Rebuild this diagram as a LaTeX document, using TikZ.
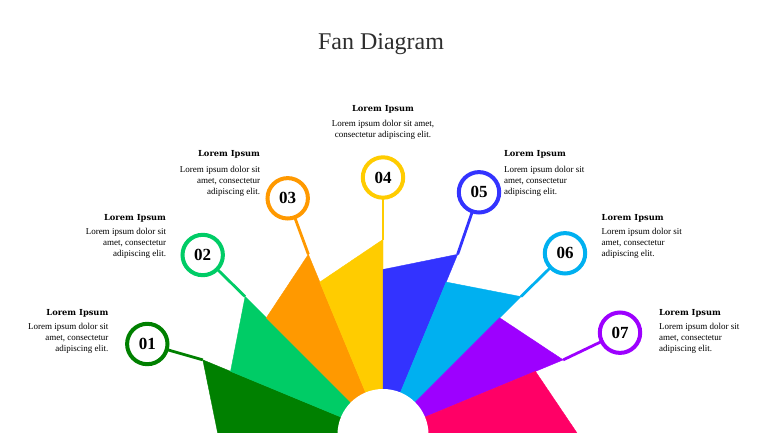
\documentclass[tikz,border=0pt]{standalone}
\usepackage{fontspec}
\setmainfont{Liberation Serif}
\newfontfamily\headfont{DejaVu Serif}
\definecolor{cA}{HTML}{008000}
\definecolor{cB}{HTML}{00CC66}
\definecolor{cC}{HTML}{FF9900}
\definecolor{cD}{HTML}{FFCC00}
\definecolor{cE}{HTML}{3333FF}
\definecolor{cF}{HTML}{00B0F0}
\definecolor{cG}{HTML}{9D00FF}
\definecolor{cH}{HTML}{FF0066}
\begin{document}
\begin{tikzpicture}[x=1pt,y=-1pt,
  seg/.style={fill=#1, draw=#1, line width=0.4pt, line join=round},
  numc/.style={circle, draw=#1, line width=4pt, fill=white, minimum size=40.4pt,
    inner sep=0pt, outer sep=0pt, font=\fontsize{17}{17}\selectfont\bfseries},
  conn/.style={draw=#1, line width=2.8pt},
  head/.style={inner sep=0pt, outer sep=0pt, font=\headfont\bfseries\fontsize{8.3}{8.3}\selectfont},
  body/.style={inner sep=0pt, outer sep=0pt, font=\fontsize{9}{11}\selectfont}]
\useasboundingbox (0,0) rectangle (768,433);
\clip (0,0) rectangle (768,433);
\fill[white] (0,0) rectangle (768,433);
\coordinate (C) at (383,434.5);
\foreach \i/\a in {0/180,1/157.5,2/135,3/112.5,4/90,5/67.5,6/45,7/22.5,8/0} {
  \coordinate (L\i) at ({383+195*cos(\a)},{434.5-195*sin(\a)});
  \coordinate (S\i) at ({383+165*cos(\a)},{434.5-165*sin(\a)});
}
% fan segments
\path[seg=cA] (C) -- (L1) -- (S0) -- cycle;
\path[seg=cB] (C) -- (L2) -- (S1) -- cycle;
\path[seg=cC] (C) -- (L3) -- (S2) -- cycle;
\path[seg=cD] (C) -- (L4) -- (S3) -- cycle;
\path[seg=cE] (C) -- (S4) -- (L5) -- cycle;
\path[seg=cF] (C) -- (S5) -- (L6) -- cycle;
\path[seg=cG] (C) -- (S6) -- (L7) -- cycle;
\path[seg=cH] (C) -- (S7) -- (L8) -- cycle;
\fill[white] (C) circle (45.5pt);
% number circles
\node[numc=cA] (n1) at (147.3,344) {01};
\node[numc=cB] (n2) at (202.7,255) {02};
\node[numc=cC] (n3) at (287.7,198.3) {03};
\node[numc=cD] (n4) at (383,177.5) {04};
\node[numc=cE] (n5) at (479,192.3) {05};
\node[numc=cF] (n6) at (565,253.3) {06};
\node[numc=cG] (n7) at (620,332.7) {07};
% connectors
\draw[conn=cA] (n1) -- (L1);
\draw[conn=cB] (n2) -- (L2);
\draw[conn=cC] (n3) -- (L3);
\draw[conn=cD] (n4) -- (L4);
\draw[conn=cE] (n5) -- (L5);
\draw[conn=cF] (n6) -- (L6);
\draw[conn=cG] (n7) -- (L7);
% title
\node[inner sep=0pt, anchor=base, text=black!82, font=\fontsize{24}{24}\selectfont] (title) at (381,49.5) {Fan Diagram};
% text blocks
\node[head, anchor=base east] (h1) at (108.3,315) {Lorem Ipsum};
\node[body, anchor=north east, align=right] (b1) at (108.3,322.5) {\rule{0pt}{7pt}Lorem ipsum dolor sit\\amet, consectetur\\adipiscing elit.};
\node[head, anchor=base east] (h2) at (166,220) {Lorem Ipsum};
\node[body, anchor=north east, align=right] (b2) at (166,227.5) {\rule{0pt}{7pt}Lorem ipsum dolor sit\\amet, consectetur\\adipiscing elit.};
\node[head, anchor=base east] (h3) at (260,157) {Lorem Ipsum};
\node[body, anchor=north east, align=right] (b3) at (260,165) {\rule{0pt}{7pt}Lorem ipsum dolor sit\\amet, consectetur\\adipiscing elit.};
\node[head, anchor=base] (h4) at (383,112) {Lorem Ipsum};
\node[body, anchor=north, align=center] (b4) at (383,120) {\rule{0pt}{7pt}Lorem ipsum dolor sit amet,\\consectetur adipiscing elit.};
\node[head, anchor=base west] (h5) at (504,157) {Lorem Ipsum};
\node[body, anchor=north west, align=left] (b5) at (504,165) {\rule{0pt}{7pt}Lorem ipsum dolor sit\\amet, consectetur\\adipiscing elit.};
\node[head, anchor=base west] (h6) at (601.7,220) {Lorem Ipsum};
\node[body, anchor=north west, align=left] (b6) at (601.7,227.5) {\rule{0pt}{7pt}Lorem ipsum dolor sit\\amet, consectetur\\adipiscing elit.};
\node[head, anchor=base west] (h7) at (659,315) {Lorem Ipsum};
\node[body, anchor=north west, align=left] (b7) at (659,322.5) {\rule{0pt}{7pt}Lorem ipsum dolor sit\\amet, consectetur\\adipiscing elit.};
\end{tikzpicture}
\end{document}
